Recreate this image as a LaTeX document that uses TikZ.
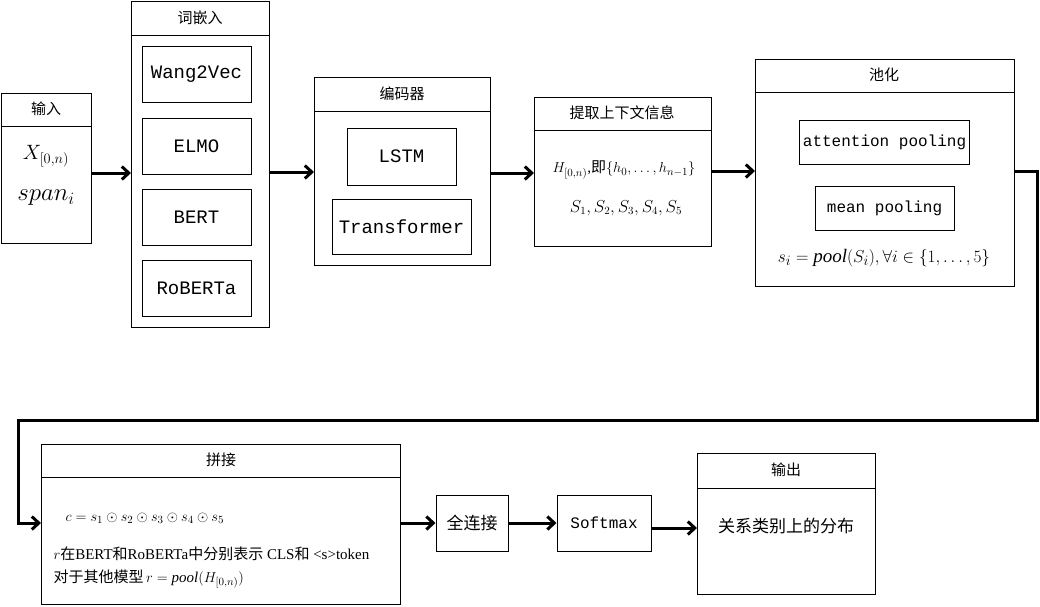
\documentclass[tikz,border=0pt]{standalone}
\usepackage{fontspec}
\setmainfont{Liberation Serif}
\newfontfamily\cjk{Noto Sans CJK SC}
\newfontfamily\mono{Liberation Mono}
\usetikzlibrary{arrows.meta}
\begin{document}
\begin{tikzpicture}[x=1pt,y=-1pt,
  bx/.style={draw,line width=1pt},
  arr/.style={line width=3pt,-{Straight Barb[length=7pt,width=13pt]}},
  hd/.style={font=\cjk\fontsize{15}{18}\selectfont},
  mt/.style={font=\mono\fontsize{19}{22}\selectfont}]
\useasboundingbox (0,0) rectangle (1040,606);
% 输入
\draw[bx] (1,93) rectangle (91,243); \draw[bx] (1,126)--(91,126);
\node[hd] (inh) at (46,109) {输入};
\node[font=\fontsize{22}{24}\selectfont] (x) at (46,156) {$X_{[0,n)}$};
\node[font=\fontsize{24}{26}\selectfont\itshape] (sp) at (46,198) {$span_i$};
\coordinate (inR) at (91,173);
% 词嵌入
\draw[bx] (131,1) rectangle (269,327); \draw[bx] (131,35)--(269,35);
\node[hd] at (200,18) {词嵌入};
\node[bx,mt,minimum width=109pt,minimum height=56pt] (w2v) at (196.5,74) {Wang2Vec};
\node[bx,mt,minimum width=109pt,minimum height=56pt] (elmo) at (196.5,146) {ELMO};
\node[bx,mt,minimum width=109pt,minimum height=56pt] (bert) at (196.5,217) {BERT};
\node[bx,mt,minimum width=109pt,minimum height=56pt] (rob) at (196.5,288) {RoBERTa};
\coordinate (weL) at (131,173); \coordinate (weR) at (269,172);
% 编码器
\draw[bx] (314,77) rectangle (490,265); \draw[bx] (314,111)--(490,111);
\node[hd] at (402,94) {编码器};
\node[bx,mt,minimum width=109pt,minimum height=57pt] (lstm) at (401.5,156.5) {LSTM};
\node[bx,mt,inner xsep=2pt,minimum width=139pt,minimum height=55pt] (tr) at (401.5,226.5) {Transformer};
\coordinate (enL) at (314,172); \coordinate (enR) at (490,173);
% 提取
\draw[bx] (534,97) rectangle (711,246); \draw[bx] (534,130)--(711,130);
\node[hd] at (622,113) {提取上下文信息};
\node[font=\fontsize{15}{16}\selectfont] (hh) at (624,170) {$H_{[0,n)}$,{\cjk 即}$\{h_0,\ldots,h_{n-1}\}$};
\node[font=\fontsize{16}{16}\selectfont] (ss) at (626,208) {$S_1,S_2,S_3,S_4,S_5$};
\coordinate (exL) at (534,173); \coordinate (exR) at (711,171);
% 池化
\draw[bx] (755,59) rectangle (1014,286); \draw[bx] (755,92)--(1014,92);
\node[hd] at (884,75) {池化};
\node[bx,font=\mono\fontsize{16}{20}\selectfont,inner xsep=3pt,minimum width=165pt,minimum height=44pt] (att) at (884.5,142) {attention pooling};
\node[bx,font=\mono\fontsize{16}{20}\selectfont,minimum width=139pt,minimum height=44pt] (mp) at (884.5,208) {mean pooling};
\node[font=\fontsize{19}{22}\selectfont] (pf) at (884,258) {$s_i = \mathit{pool}(S_i), \forall i\in\{1,\ldots,5\}$};
\coordinate (poL) at (755,171); \coordinate (poR) at (1014,171);
% 拼接
\draw[bx] (41,444) rectangle (400,604); \draw[bx] (41,477)--(400,477);
\node[hd] at (221,460) {拼接};
\node[anchor=west,font=\fontsize{15}{16}\selectfont] (c) at (62,518) {$c = s_1\odot s_2\odot s_3\odot s_4\odot s_5$};
\node[anchor=west,font=\fontsize{15}{16}\selectfont] (r1) at (50,554) {$r${\cjk 在}BERT{\cjk 和}RoBERTa{\cjk 中分别表示} CLS{\cjk 和} <s>token};
\node[anchor=west,font=\fontsize{15}{16}\selectfont] (r2) at (50,579) {{\cjk 对于其他模型}\,$r = \mathit{pool}(H_{[0,n)})$};
\coordinate (cjL) at (41,523); \coordinate (cjR) at (400,523);
% 全连接 / Softmax
\node[bx,font=\cjk\fontsize{17}{20}\selectfont,minimum width=72pt,minimum height=56pt] (fc) at (472,523) {全连接};
\node[bx,font=\mono\fontsize{16}{20}\selectfont,minimum width=94pt,minimum height=56pt] (sm) at (604,523) {Softmax};
% 输出
\draw[bx] (697,453) rectangle (875,594); \draw[bx] (697,488)--(875,488);
\node[hd] at (786,470) {输出};
\node[font=\cjk\fontsize{17}{20}\selectfont] (dist) at (786,526) {关系类别上的分布};
\coordinate (ouL) at (697,528); \coordinate (smR) at (651,528);
% arrows
\draw[arr] (inR) -- (weL);
\draw[arr] (weR) -- (enL);
\draw[arr] (enR) -- (exL);
\draw[arr] (exR) -- (poL);
\coordinate (t1) at (1037,171); \coordinate (t2) at (1037,420);
\coordinate (t3) at (18,420); \coordinate (t4) at (18,523);
\draw[arr] (poR) -- (t1) -- (t2) -- (t3) -- (t4) -- (cjL);
\draw[arr] (cjR) -- (fc.west);
\draw[arr] (fc.east) -- (sm.west);
\draw[arr] (smR) -- (ouL);
\end{tikzpicture}
\end{document}
